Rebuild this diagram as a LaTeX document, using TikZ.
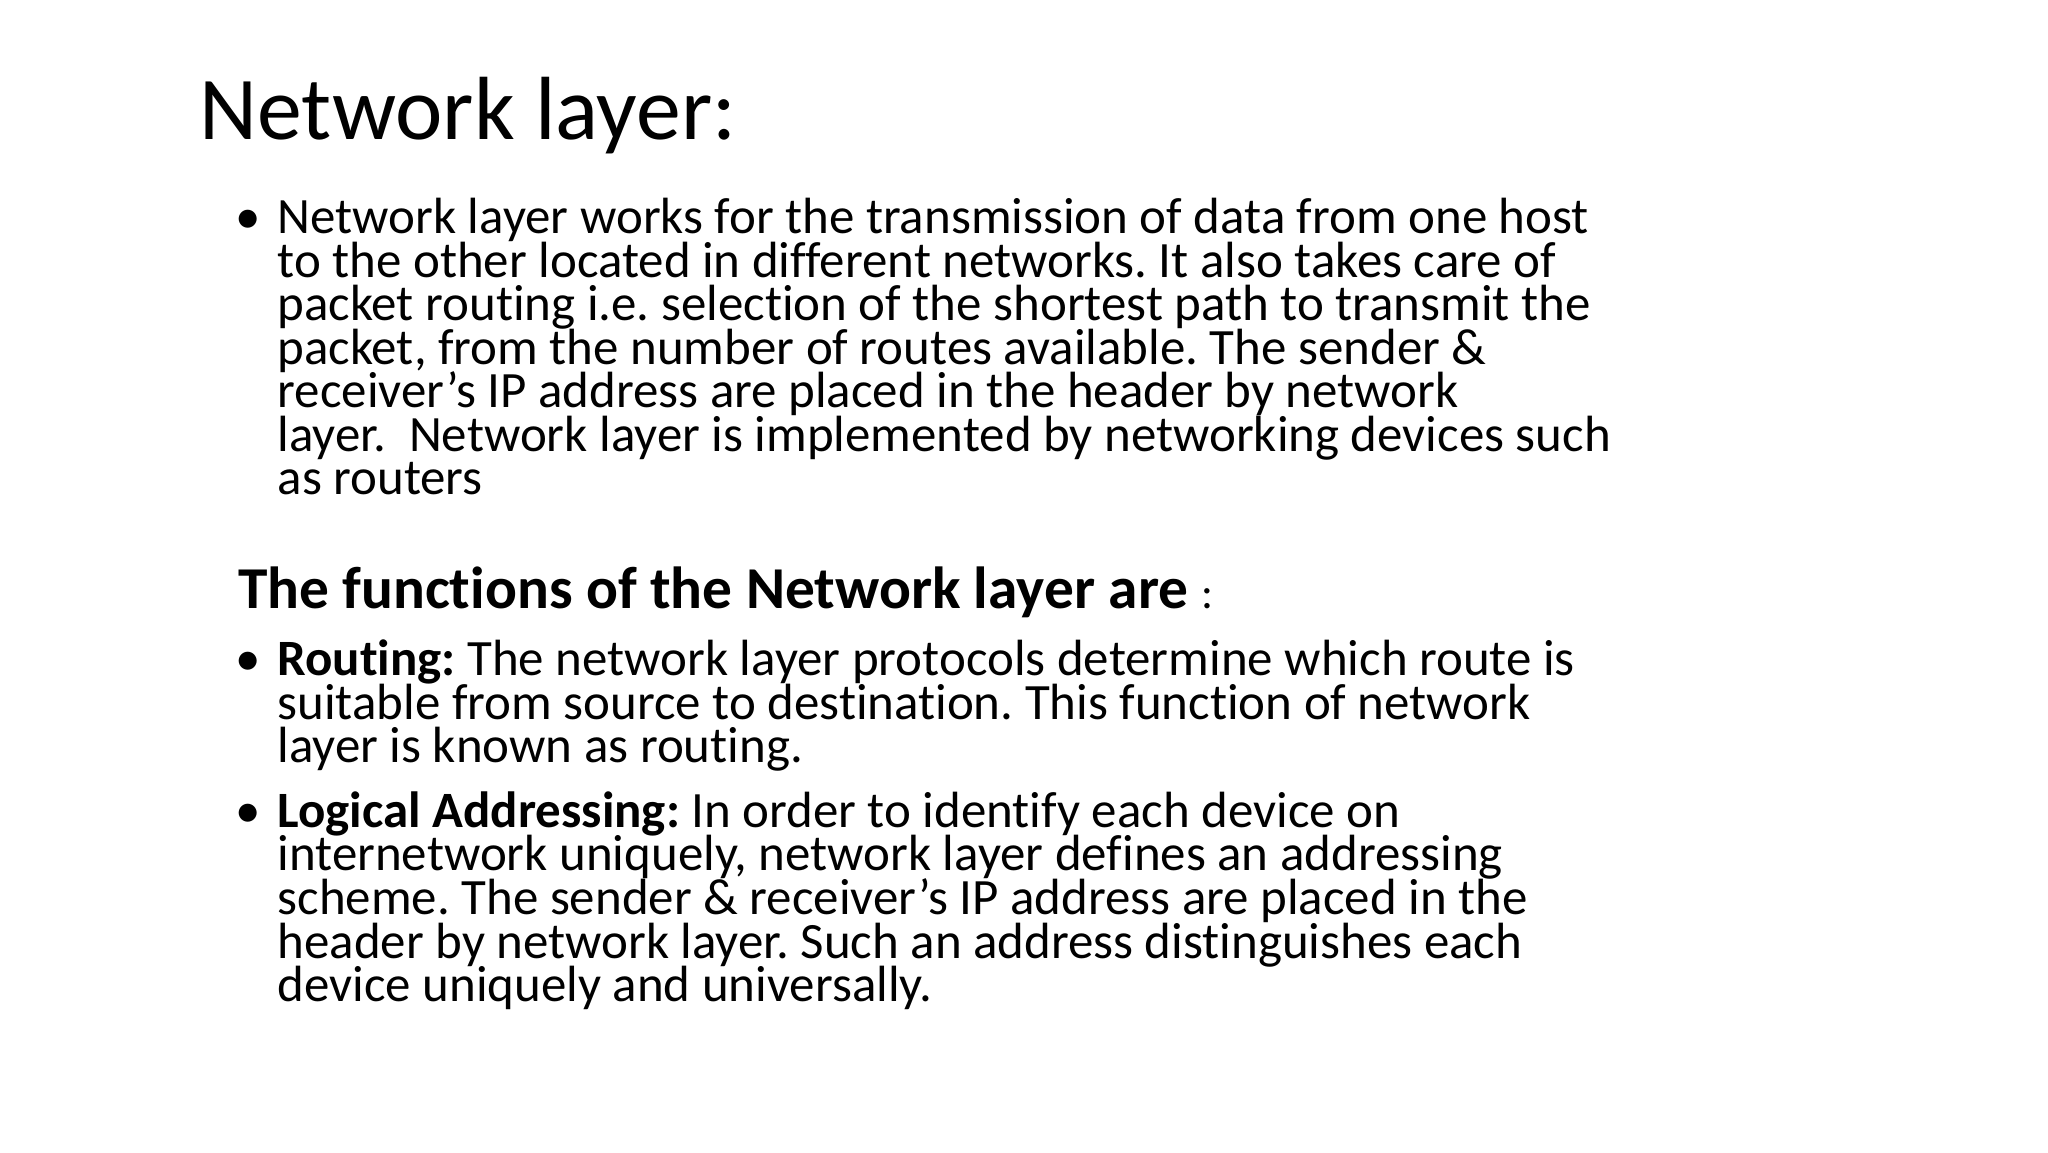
\documentclass[tikz,border=0pt]{standalone}
\usepackage{fontspec}
\setmainfont[Ligatures=NoCommon]{Carlito}
\begin{document}
\frenchspacing
\begin{tikzpicture}[x=0.5pt,y=-0.5pt,
  ln/.style={anchor=base west,inner sep=0pt,font=\fontsize{19.3}{22}\selectfont},
  bul/.style={anchor=base west,inner sep=0pt,font=\fontsize{19.3}{22}\selectfont}]
\useasboundingbox (0,0) rectangle (1552,873);
\node[anchor=base west,inner sep=0pt,font=\fontsize{34}{40}\selectfont] (title) at (151,106) {Network layer:};
\node[bul] (b1) at (178,177) {•};
\node[ln] (p1) at (210,177) {Network layer works for the transmission of data from one host};
\node[ln] (p2) at (210,210) {to the other located in different networks. It also takes care of};
\node[ln] (p3) at (210,243) {packet routing i.e. selection of the shortest path to transmit the};
\node[ln] (p4) at (210,276) {packet, from the number of routes available. The sender \&};
\node[ln] (p5) at (210,309) {receiver’s IP address are placed in the header by network};
\node[ln] (p6) at (210,342) {layer.\ \ Network layer is implemented by networking devices such};
\node[ln] (p7) at (210,375) {as routers};
\node[ln,font=\fontsize{22.5}{24}\selectfont\bfseries] (h) at (180,461) {The functions of the Network layer are \normalfont\fontsize{17}{18}\selectfont:};
\node[bul] (b2) at (178,512) {•};
\node[ln] (r1) at (210,512) {\textbf{Routing:} The network layer protocols determine which route is};
\node[ln] (r2) at (210,545) {suitable from source to destination. This function of network};
\node[ln] (r3) at (210,578) {layer is known as routing.};
\node[bul] (b3) at (178,627) {•};
\node[ln] (l1) at (210,627) {\textbf{Logical Addressing:} In order to identify each device on};
\node[ln] (l2) at (210,660) {internetwork uniquely, network layer defines an addressing};
\node[ln] (l3) at (210,693) {scheme. The sender \& receiver’s IP address are placed in the};
\node[ln] (l4) at (210,726) {header by network layer. Such an address distinguishes each};
\node[ln] (l5) at (210,759) {device uniquely and universally.};
\end{tikzpicture}
\end{document}
